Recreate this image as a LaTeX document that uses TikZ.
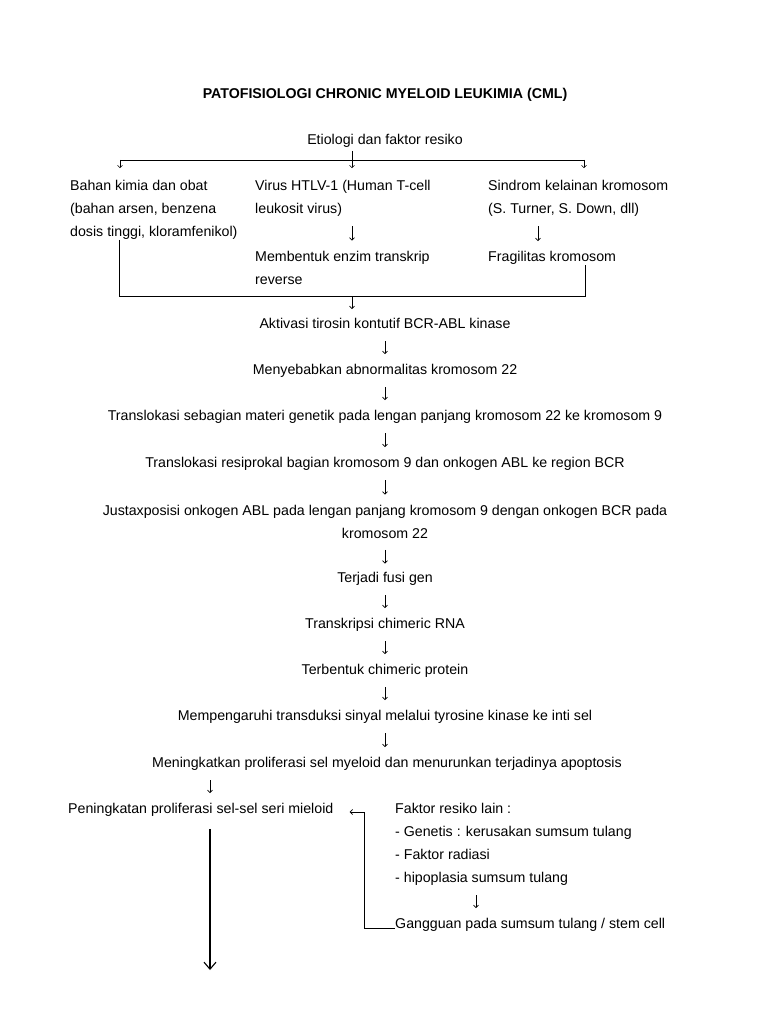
\documentclass[tikz,border=0pt]{standalone}
\usepackage{fontspec}
\setmainfont{Liberation Sans}
\usepackage{tikz}
\usetikzlibrary{arrows.meta,positioning,calc}
\tikzstyle{txt} = [inner sep=0pt, font=\fontsize{14.2}{23}\selectfont, text height=10.5pt, text depth=3pt]
\tikzstyle{txtblock} = [inner sep=0pt, font=\fontsize{14.2}{23}\selectfont, align=left]
\tikzstyle{line} = [line width=0.8pt]
\tikzstyle{darr} = [line width=0.6pt, -{Straight Barb[length=2.5pt,width=5pt]}, shorten <=9.5pt, shorten >=10pt]
\tikzstyle{elarr} = [line width=0.8pt, -{Straight Barb[length=2.5pt,width=5pt]}, shorten >=16pt]
\tikzstyle{bigarr} = [line width=1.1pt, -{Straight Barb[length=7pt,width=12pt]}]

\begin{document}
\begin{tikzpicture}[x=1pt,y=-1pt]
\fill[white] (0,0) rectangle (768,1024);
% Title
\node[txt, font=\fontsize{14.2}{23}\selectfont\bfseries] (title) at (385,95) {PATOFISIOLOGI CHRONIC MYELOID LEUKIMIA (CML)};
\node[txt] (etio) at (385,141) {Etiologi dan faktor resiko};

% Three causes
\node[txtblock, anchor=west] (bahan) at (70,210) {Bahan kimia dan obat\\(bahan arsen, benzena\\dosis tinggi, kloramfenikol)};
\node[txtblock, anchor=west] (virus) at (255,198.5) {Virus HTLV-1 (Human T-cell\\leukosit virus)};
\node[txtblock, anchor=west] (memb) at (255,267.5) {Membentuk enzim transkrip\\reverse};
\node[txtblock, anchor=west] (sindrom) at (488,198.5) {Sindrom kelainan kromosom\\(S. Turner, S. Down, dll)};
\node[txt, anchor=west] (fragil) at (488,258) {Fragilitas kromosom};
\coordinate (forkL) at (120,160);
\coordinate (forkM) at (352,160);
\coordinate (forkR) at (584,160);
\coordinate (joinL) at (119,296);
\coordinate (joinR) at (585,296);

% Main chain
\node[txt] (aktiv) at (385,325) {Aktivasi tirosin kontutif BCR-ABL kinase};
\node[txt] (abnorm) at (385,371) {Menyebabkan abnormalitas kromosom 22};
\node[txt] (translA) at (385,417) {Translokasi sebagian materi genetik pada lengan panjang kromosom 22 ke kromosom 9};
\node[txt] (translB) at (385,464) {Translokasi resiprokal bagian kromosom 9 dan onkogen ABL ke region BCR};
\node[txtblock, align=center] (justa) at (385,521.5) {Justaxposisi onkogen ABL pada lengan panjang kromosom 9 dengan onkogen BCR pada\\kromosom 22};
\node[txt] (fusi) at (385,579) {Terjadi fusi gen};
\node[txt] (rna) at (385,625) {Transkripsi chimeric RNA};
\node[txt] (protein) at (385,671) {Terbentuk chimeric protein};
\node[txt] (sinyal) at (385,717) {Mempengaruhi transduksi sinyal melalui tyrosine kinase ke inti sel};
\node[txt] (prolif) at (387,764) {Meningkatkan proliferasi sel myeloid dan menurunkan terjadinya apoptosis};

% Bottom part
\node[txt, anchor=west] (pening) at (68,810) {Peningkatan proliferasi sel-sel seri mieloid};
\node[txtblock, anchor=west] (faktor) at (395,844.5) {Faktor resiko lain :\\- Genetis : kerusakan sumsum tulang\\- Faktor radiasi\\- hipoplasia sumsum tulang};
\node[txt, anchor=west] (gangguan) at (395,925) {Gangguan pada sumsum tulang / stem cell};
\coordinate (trunk) at (210,970);

% Arrows
\draw[line] (forkL) -- (forkR);
\draw[darr, shorten <=3pt, shorten >=12pt] (forkM |- etio.south) -- (forkM |- virus.north);
\draw[darr, shorten <=0pt, shorten >=12pt] (forkL) -- (forkL |- bahan.north);
\draw[darr, shorten <=0pt, shorten >=12pt] (forkR) -- (forkR |- sindrom.north);
\draw[darr] ($(virus.south west)+(97,0)$) -- ($(memb.north west)+(97,0)$);
\draw[darr] ($(sindrom.south west)+(50,0)$) -- ($(fragil.north west)+(50,0)$);
\draw[line] (joinL |- bahan.south) -- (joinL) -- (joinR) -- (joinR |- fragil.south);
\draw[darr, shorten <=1pt, shorten >=9pt] (forkM |- joinL) -- (forkM |- aktiv.north);
\draw[darr] (aktiv) -- (abnorm);
\draw[darr] (abnorm) -- (translA);
\draw[darr] (translA) -- (translB);
\draw[darr] (translB) -- (justa);
\draw[darr, shorten <=11.5pt, shorten >=8.5pt] (justa) -- (fusi);
\draw[darr] (fusi) -- (rna);
\draw[darr] (rna) -- (protein);
\draw[darr] (protein) -- (sinyal);
\draw[darr] (sinyal.south) -- (sinyal.south |- prolif.north);
\draw[darr] (trunk |- prolif.south) -- (trunk |- pening.north);
\draw[bigarr, shorten <=12pt] (trunk |- pening.south) -- (trunk);
\draw[darr] ($(faktor.south west)+(81,0)$) -- ($(gangguan.north west)+(81,0)$);
\draw[elarr] (gangguan.base west) -| ($(pening.east)+(31,2)$) -- ($(pening.east)+(0,2)$);
\end{tikzpicture}
\end{document}
